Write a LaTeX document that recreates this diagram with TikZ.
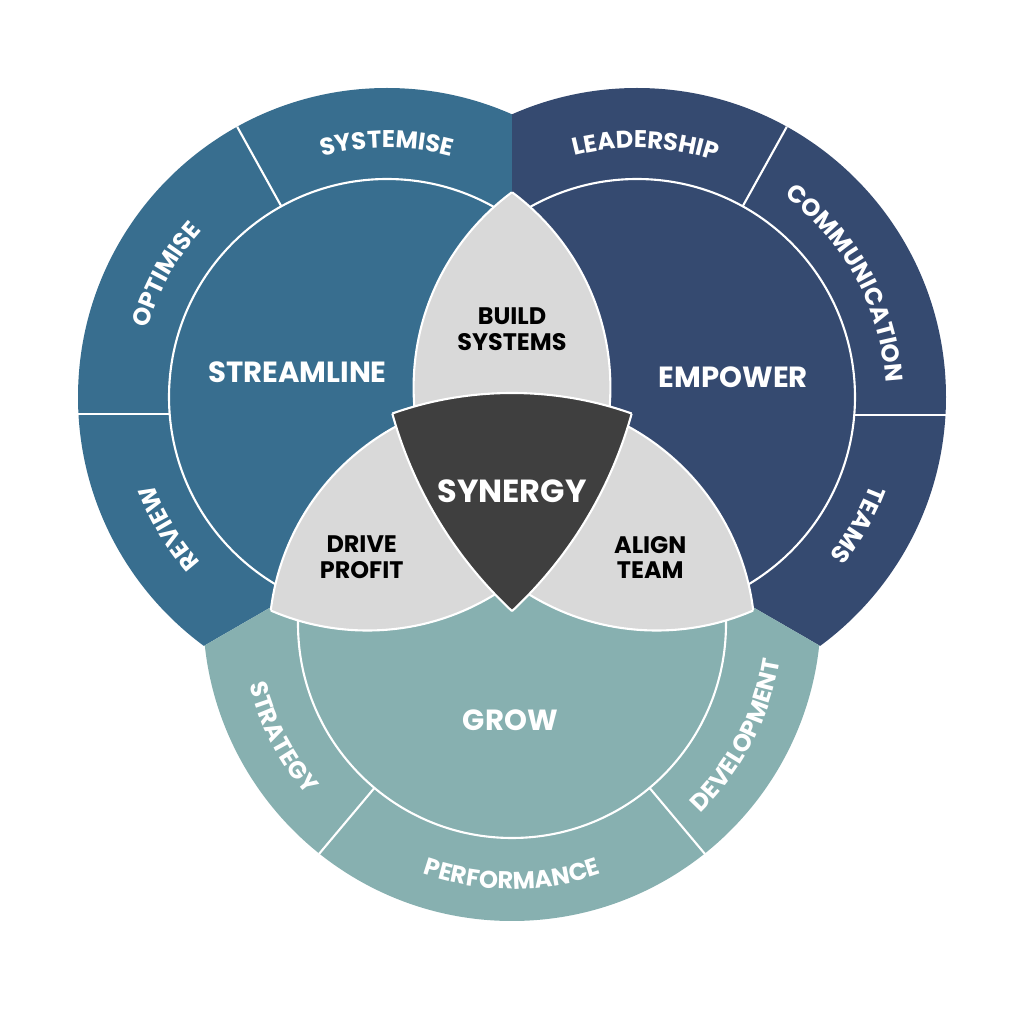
\documentclass[tikz,border=0pt]{standalone}
\usepackage{fontspec}
\setmainfont{Poppins}
\usepackage{xcolor}
\usetikzlibrary{calc,decorations.text}

\definecolor{streamblue}{HTML}{386E8F}
\definecolor{empowernavy}{HTML}{354A70}
\definecolor{growteal}{HTML}{87B0B0}
\definecolor{lensgray}{HTML}{D9D9D9}
\definecolor{synergydark}{HTML}{3F3F3F}
\newcommand{\ringfont}{\bfseries\fontsize{6.9}{6.9}\selectfont}

\begin{document}
\begin{tikzpicture}[
    every node/.style={font=\bfseries},
    whiteline/.style={draw=white, line width=0.6pt},
    ringlabel/.style={decorate, decoration={text along path, text align=center, text color=white}},
    bigname/.style={text=white, inner sep=0pt, font=\bfseries\fontsize{8.3}{9}\selectfont},
    lensname/.style={text=black, inner sep=0pt, align=center, font=\bfseries\fontsize{6.8}{7.3}\selectfont}]
  \useasboundingbox (0,0) rectangle (10.24,10.24);
  \coordinate (L) at (3.87,6.27);
  \coordinate (R) at (6.37,6.27);
  \coordinate (B) at (5.12,4.12);
  \coordinate (Bi) at (5.12,4.00);
  \coordinate (Bt) at (5.12,4.06);
  \coordinate (G) at (5.12,5.56);
  \coordinate (lensL) at (3.674,6.365);
  \coordinate (lensR) at (6.566,6.365);
  \coordinate (lensB) at (5.12,3.84);
  \coordinate (synT) at (5.12,2.73);
  \coordinate (synL) at (8.03,7.24);
  \coordinate (synR) at (2.21,7.24);

  % the three rings
  \begin{scope}
    \clip (G) -- ($(G)+(90:8)$) -- ($(G)+(150:8)$) -- ($(G)+(210:8)$) -- cycle;
    \fill[streamblue] (L) circle (3.09);
    \draw[whiteline] (L) circle (2.18);
  \end{scope}
  \begin{scope}
    \clip (G) -- ($(G)+(90:8)$) -- ($(G)+(30:8)$) -- ($(G)+(-30:8)$) -- cycle;
    \fill[empowernavy] (R) circle (3.09);
    \draw[whiteline] (R) circle (2.18);
  \end{scope}
  \begin{scope}
    \clip (G) -- ($(G)+(210:8)$) -- ($(G)+(270:8)$) -- ($(G)+(330:8)$) -- cycle;
    \fill[growteal] (B) circle (3.09);
    \draw[whiteline] (Bi) circle (2.14);
  \end{scope}

  \draw[whiteline] ($(L)+(119:2.18)$) -- ($(L)+(119:3.09)$);
  \draw[whiteline] ($(L)+(-3.085,-0.17)$) -- ($(L)+(-2.173,-0.17)$);
  \draw[whiteline] ($(R)+(61:2.18)$) -- ($(R)+(61:3.09)$);
  \draw[whiteline] ($(R)+(2.173,-0.18)$) -- ($(R)+(3.085,-0.18)$);
  \draw[whiteline] ($(Bi)+(230:2.14)$) -- ($(Bi)+(230:3.0)$);
  \draw[whiteline] ($(Bi)+(310:2.14)$) -- ($(Bi)+(310:3.0)$);

  \path[ringlabel, decoration={text={|\ringfont|SYSTEMISE}}]
    ($(L)+(130:2.49)$) arc[start angle=130, end angle=50, radius=2.49];
  \path[ringlabel, decoration={text={|\ringfont|OPTIMISE}}]
    ($(L)+(191:2.49)$) arc[start angle=191, end angle=111, radius=2.49];
  \path[ringlabel, decoration={text={|\ringfont|REVIEW}}]
    ($(L)+(251:2.49)$) arc[start angle=251, end angle=171, radius=2.49];
  \path[ringlabel, decoration={text={|\ringfont|LEADERSHIP}}]
    ($(R)+(128:2.49)$) arc[start angle=128, end angle=48, radius=2.49];
  \path[ringlabel, decoration={text={|\ringfont|COMMUNICATION}}]
    ($(R)+(68.5:2.49)$) arc[start angle=68.5, end angle=-11.5, radius=2.49];
  \path[ringlabel, decoration={text={|\ringfont|TEAMS}}]
    ($(R)+(10:2.49)$) arc[start angle=10, end angle=-70, radius=2.49];
  \path[ringlabel, decoration={text={|\ringfont|STRATEGY}}]
    ($(Bt)+(167.5:2.71)$) arc[start angle=167.5, end angle=247.5, radius=2.71];
  \path[ringlabel, decoration={text={|\ringfont|PERFORMANCE}}]
    ($(Bt)+(230:2.71)$) arc[start angle=230, end angle=310, radius=2.71];
  \path[ringlabel, decoration={text={|\ringfont|DEVELOPMENT}}]
    ($(Bt)+(292.5:2.71)$) arc[start angle=292.5, end angle=372.5, radius=2.71];

  % overlaps
  \foreach \a/\b in {lensL/lensR, lensL/lensB, lensR/lensB} {
    \begin{scope}
      \clip (\a) circle (2.43);
      \fill[lensgray] (\b) circle (2.43);
    \end{scope}
  }
  \foreach \a/\b in {lensL/lensR, lensR/lensL, lensL/lensB, lensB/lensL, lensR/lensB, lensB/lensR} {
    \begin{scope}
      \clip (\a) circle (2.43);
      \draw[whiteline] (\b) circle (2.43);
    \end{scope}
  }

  % centre
  \begin{scope}
    \clip (synT) circle (3.58);
    \clip (synL) circle (4.26);
    \fill[synergydark] (synR) circle (4.26);
  \end{scope}
  \begin{scope}
    \clip (synL) circle (4.26);
    \clip (synR) circle (4.26);
    \draw[whiteline] (synT) circle (3.58);
  \end{scope}
  \begin{scope}
    \clip (synT) circle (3.58);
    \clip (synR) circle (4.26);
    \draw[whiteline] (synL) circle (4.26);
  \end{scope}
  \begin{scope}
    \clip (synT) circle (3.58);
    \clip (synL) circle (4.26);
    \draw[whiteline] (synR) circle (4.26);
  \end{scope}

  \node[bigname] (streamline) at (2.975,6.515) {STREAMLINE};
  \node[bigname] (empower) at (7.333,6.465) {EMPOWER};
  \node[bigname] (grow) at (5.104,3.035) {GROW};
  \node[bigname, font=\bfseries\fontsize{9.1}{10}\selectfont] (synergy) at (5.12,5.323) {SYNERGY};
  \node[lensname] (build) at (5.12,6.945) {BUILD\\SYSTEMS};
  \node[lensname] (drive) at (3.617,4.665) {DRIVE\\PROFIT};
  \node[lensname] (align) at (6.503,4.665) {ALIGN\\TEAM};
\end{tikzpicture}
\end{document}
